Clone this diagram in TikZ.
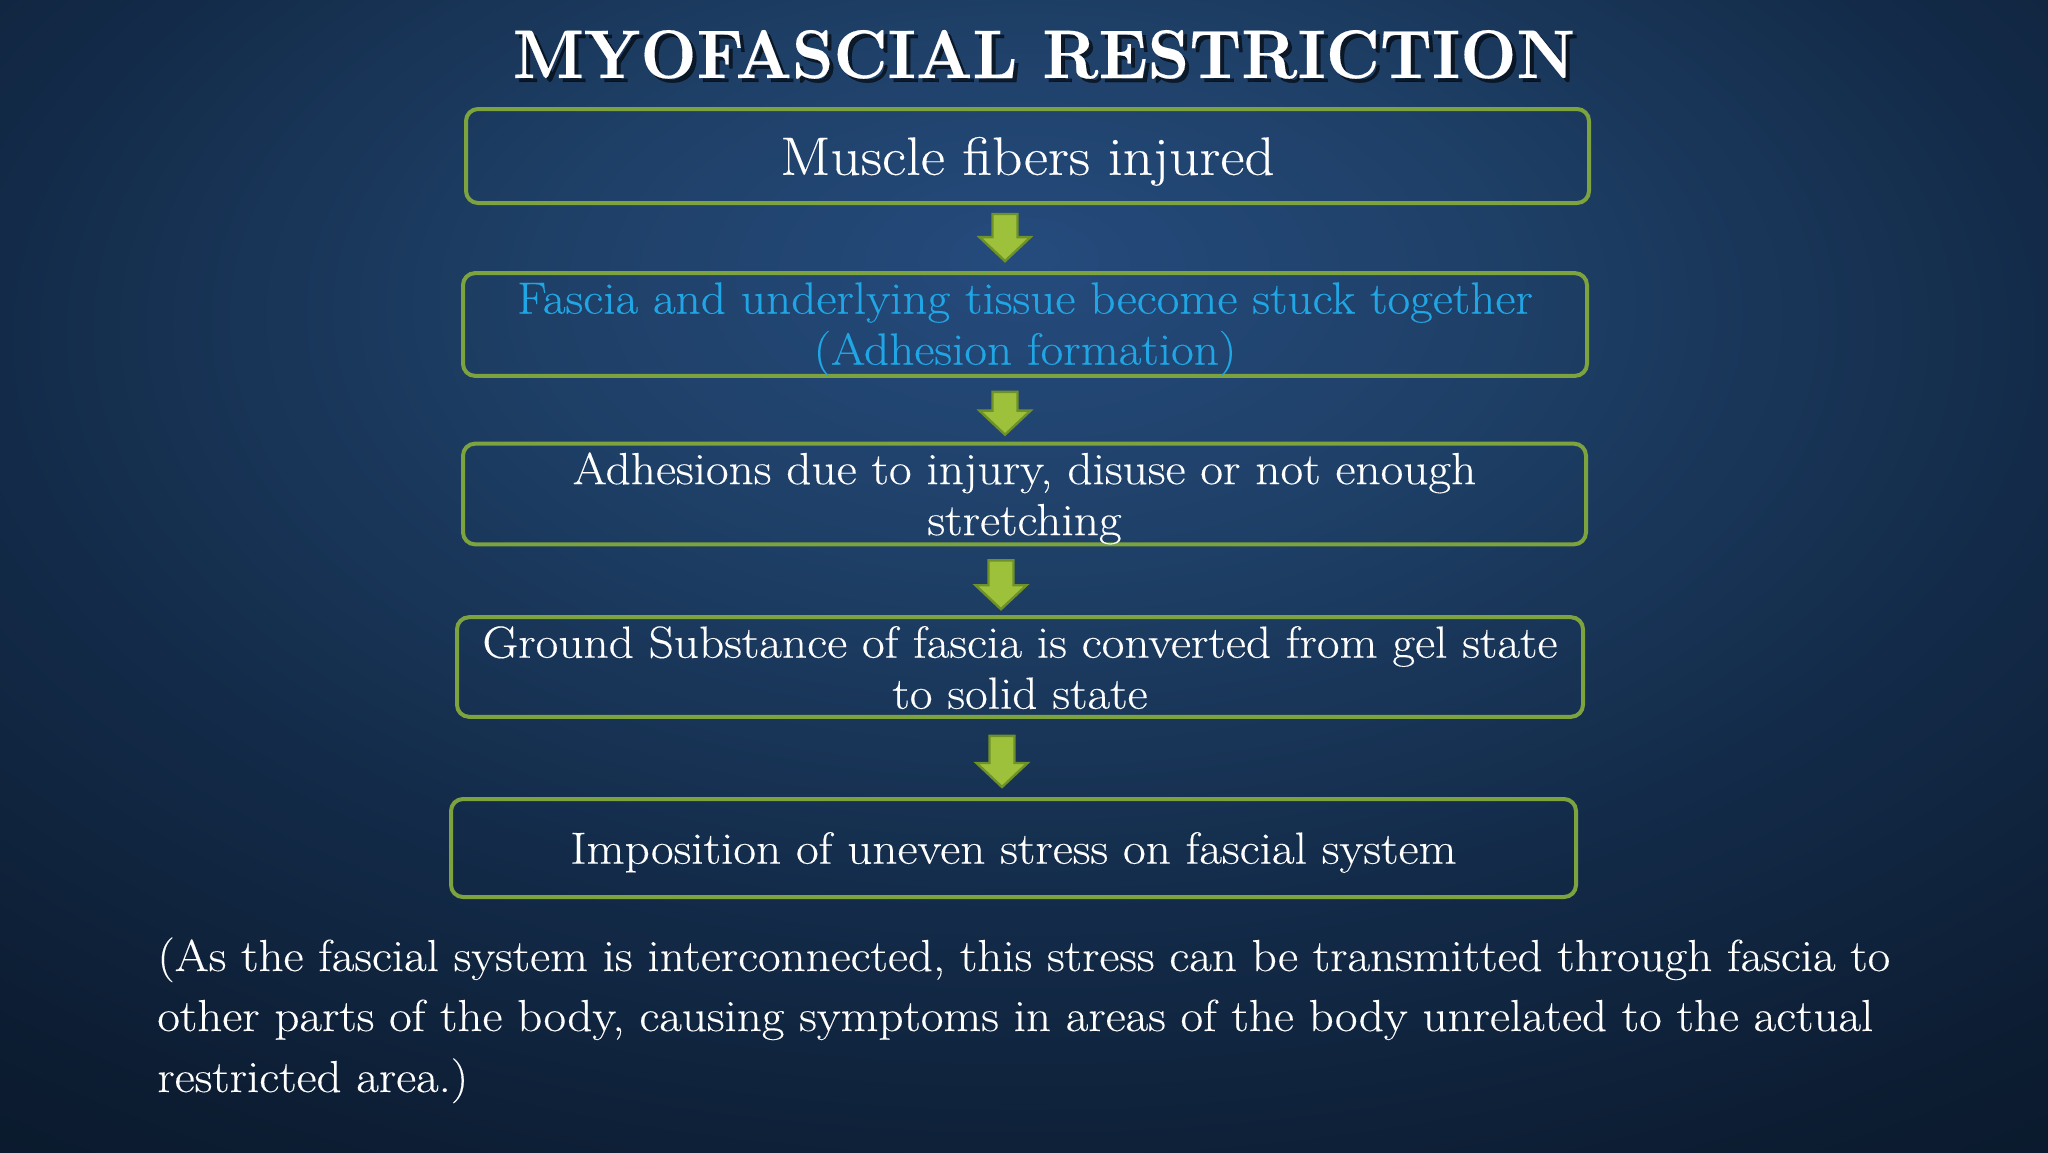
\documentclass[tikz,border=0pt]{standalone}
\usepackage{fontspec}
\setmainfont{Latin Modern Roman}[FakeStretch=1.095, FakeBold=0.25]
\usepackage{graphicx}
\usetikzlibrary{calc}
\definecolor{bgA}{HTML}{254B7D}
\definecolor{bgB}{HTML}{1E3F66}
\definecolor{bgC}{HTML}{132B49}
\definecolor{bgD}{HTML}{0C1C31}
\definecolor{bgE}{HTML}{08131F}
\definecolor{bgF}{HTML}{07101A}
\definecolor{boxgreen}{HTML}{7DA33E}
\definecolor{arrowfill}{HTML}{9DC13B}
\definecolor{arrowline}{HTML}{6F9129}
\definecolor{cyantext}{HTML}{20A6E4}
\pgfdeclareradialshading{bgshade}{\pgfpoint{0bp}{14bp}}{color(0bp)=(bgA); color(12bp)=(bgB); color(25bp)=(bgC); color(38bp)=(bgD); color(55bp)=(bgE); color(95bp)=(bgF)}
\newcommand\bst{\rule[-0.18em]{0pt}{1.08em}}
% #1 upper box, #2 lower box, #3 x (px), #4 gap below upper box (px), #5 gap above lower box (px)
\newcommand\garrow[5]{%
  \draw[garrowsty] let \p1=(#1.south), \p2=(#2.north), \n1={#3*0.5},
      \n2={\y1-#4*0.5pt}, \n3={\y2+#5*0.5pt} in
    ({\n1*1pt-6.25pt},{\n2*1pt}) -- ({\n1*1pt+6.25pt},{\n2*1pt})
    -- ({\n1*1pt+6.25pt},{\n3*1pt+12pt}) -- ({\n1*1pt+12.75pt},{\n3*1pt+12pt})
    -- ({\n1*1pt},{\n3*1pt}) -- ({\n1*1pt-12.75pt},{\n3*1pt+12pt})
    -- ({\n1*1pt-6.25pt},{\n3*1pt+12pt}) -- cycle;}
\tikzset{
  flowbox/.style={draw=boxgreen, line width=2pt, rounded corners=6pt, inner sep=0pt,
    align=center, text=white, font=\fontsize{22.5pt}{25.5pt}\selectfont},
  garrowsty/.style={fill=arrowfill, draw=arrowline, line width=1.2pt, line join=miter},
  bodytext/.style={text=white, inner sep=0pt, anchor=base west,
    font=\fontsize{22.4pt}{26pt}\selectfont},
  titletext/.style={anchor=base, inner sep=0pt}
}
\begin{document}
\begin{tikzpicture}[x=0.5pt,y=-0.5pt]
\useasboundingbox (0,0) rectangle (2048,1152);
\shade[shading=bgshade] (0,0) rectangle (2048,1152);
% title
\node[titletext, text=black, opacity=0.6] (titleshadow) at (1048,82)
  {\resizebox{531pt}{24pt}{\bfseries MYOFASCIAL RESTRICTION}};
\node[titletext, text=white] (title) at (1044,78)
  {\resizebox{531pt}{24pt}{\bfseries MYOFASCIAL RESTRICTION}};
% boxes
\node[flowbox, minimum width={1123*0.5pt}, minimum height={94*0.5pt},
  font=\fontsize{27pt}{30pt}\selectfont] (b1) at (1027.5,156)
  {\bst Muscle fibers injured};
\node[flowbox, minimum width={1124*0.5pt}, minimum height={99*0.5pt}, text=cyantext] (b2) at (1025,324.5)
  {\bst Fascia and underlying tissue become stuck together\\\bst (Adhesion formation)};
\node[flowbox, minimum width={1123*0.5pt}, minimum height={94*0.5pt}] (b3) at (1024.5,494)
  {\bst Adhesions due to injury, disuse or not enough\\\bst stretching};
\node[flowbox, minimum width={1126*0.5pt}, minimum height={98*0.5pt}] (b4) at (1020,667)
  {\bst Ground Substance of fascia is converted from gel state\\\bst to solid state};
\node[flowbox, minimum width={1125*0.5pt}, minimum height={98*0.5pt}] (b5) at (1013.5,848)
  {\bst Imposition of uneven stress on fascial system};
% arrows
\garrow{b1}{b2}{1005}{9}{10}
\garrow{b2}{b3}{1005}{14}{7}
\garrow{b3}{b4}{1001}{14}{6}
\garrow{b4}{b5}{1002}{17}{10}
% note
\node[bodytext] (n1) at (157,971) {(As the fascial system is interconnected, this stress can be transmitted through fascia to};
\node[bodytext] (n2) at (157,1031) {other parts of the body, causing symptoms in areas of the body unrelated to the actual};
\node[bodytext] (n3) at (157,1092) {restricted area.)};
\end{tikzpicture}
\end{document}
